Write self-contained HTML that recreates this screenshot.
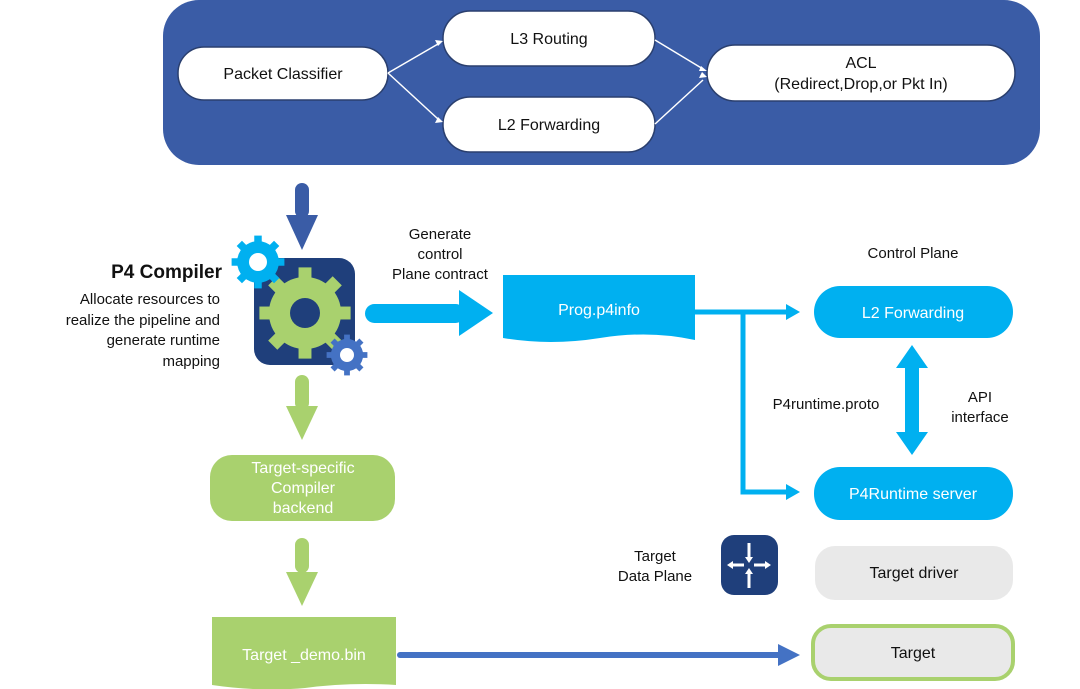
<!DOCTYPE html>
<html><head><style>body{margin:0;background:#fff}svg{display:block}text{font-family:"Liberation Sans",sans-serif}</style></head><body>
<svg width="1080" height="689" viewBox="0 0 1080 689" xmlns="http://www.w3.org/2000/svg">
<defs>
<g id="teeth"><rect x="-0.17" y="-1.2" width="0.34" height="2.4"/><rect x="-0.17" y="-1.2" width="0.34" height="2.4" transform="rotate(45)"/><rect x="-0.17" y="-1.2" width="0.34" height="2.4" transform="rotate(90)"/><rect x="-0.17" y="-1.2" width="0.34" height="2.4" transform="rotate(135)"/><circle r="0.95"/></g>
</defs>
<rect x="163" y="0" width="877" height="165" rx="36" fill="#3a5ca6"/>
<g fill="#fff" stroke="#2a3f6e" stroke-width="1.5">
<rect x="178" y="47" width="210" height="53" rx="26"/>
<rect x="443" y="11" width="212" height="55" rx="27"/>
<rect x="443" y="97" width="212" height="55" rx="27"/>
<rect x="707" y="45" width="308" height="56" rx="28"/>
</g>
<g stroke="#fff" stroke-width="1.5" fill="none"><path d="M388 73L438 44M388 73L438 119M655 40L703 69M655 124L703 80"/></g>
<g fill="#fff"><path d="M443 41l-8 -1l3 6z"/><path d="M443 122l-8 1l3 -6z"/><path d="M707 71l-6 -5l-2 5z"/><path d="M707 77l-8 1l3 -6z"/></g>
<g font-size="16" fill="#111" text-anchor="middle">
<text x="283" y="79">Packet Classifier</text>
<text x="549" y="44">L3 Routing</text>
<text x="549" y="130">L2 Forwarding</text>
<text x="861" y="68">ACL</text>
<text x="861" y="89">(Redirect,Drop,or Pkt In)</text>
</g>
<rect x="295" y="183" width="14" height="35" rx="7" fill="#3a5ca6"/><path d="M286 215h32l-16 35z" fill="#3a5ca6"/>
<rect x="254" y="258" width="101" height="107" rx="16" fill="#1f3f7b"/>
<g transform="translate(305,313) scale(38)" fill="#a9d16e"><use href="#teeth"/></g><circle cx="305" cy="313" r="15" fill="#1f3f7b"/>
<g transform="translate(258,262) scale(22)" fill="#00b0f0"><use href="#teeth"/></g><circle cx="258" cy="262" r="9" fill="#fff"/>
<g transform="translate(347,355) scale(17)" fill="#4472c4"><use href="#teeth"/></g><circle cx="347" cy="355" r="7" fill="#fff"/>
<text x="222" y="278" font-size="19" font-weight="bold" text-anchor="end" fill="#111">P4 Compiler</text>
<g font-size="15" fill="#111" text-anchor="end"><text x="220" y="304">Allocate resources to</text><text x="220" y="325">realize the pipeline and</text><text x="220" y="345">generate runtime</text><text x="220" y="366">mapping</text></g>
<g font-size="15" fill="#111" text-anchor="middle"><text x="440" y="239">Generate</text><text x="440" y="259">control</text><text x="440" y="279">Plane contract</text></g>
<rect x="365" y="304" width="100" height="19" rx="9.5" fill="#00b0f0"/><path d="M459 290L493 313L459 336z" fill="#00b0f0"/>
<path d="M503 275H695V340Q650 330 600 338Q550 346 503 338z" fill="#00b0f0"/>
<text x="599" y="315" font-size="16" fill="#fff" text-anchor="middle">Prog.p4info</text>
<g stroke="#00b0f0" stroke-width="5" fill="none"><path d="M695 312H790M743 312V492H790"/></g>
<path d="M800 312l-14 -8v16z M800 492l-14 -8v16z" fill="#00b0f0"/>
<text x="913" y="258" font-size="15" fill="#111" text-anchor="middle">Control Plane</text>
<rect x="814" y="286" width="199" height="52" rx="26" fill="#00b0f0"/>
<rect x="814" y="467" width="199" height="53" rx="26" fill="#00b0f0"/>
<g font-size="16" fill="#fff" text-anchor="middle"><text x="913" y="318">L2 Forwarding</text><text x="913" y="499">P4Runtime server</text></g>
<rect x="905" y="365" width="14" height="70" fill="#00b0f0"/><path d="M896 368L912 345L928 368zM896 432L912 455L928 432z" fill="#00b0f0"/>
<text x="826" y="409" font-size="15" fill="#111" text-anchor="middle">P4runtime.proto</text>
<g font-size="15" fill="#111" text-anchor="middle"><text x="980" y="402">API</text><text x="980" y="422">interface</text></g>
<rect x="295" y="375" width="14" height="35" rx="7" fill="#a9d16e"/><path d="M286 406h32l-16 34z" fill="#a9d16e"/>
<rect x="210" y="455" width="185" height="66" rx="22" fill="#a9d16e"/>
<g font-size="16" fill="#fff" text-anchor="middle"><text x="303" y="473">Target-specific</text><text x="303" y="493">Compiler</text><text x="303" y="513">backend</text></g>
<rect x="295" y="538" width="14" height="35" rx="7" fill="#a9d16e"/><path d="M286 572h32l-16 34z" fill="#a9d16e"/>
<path d="M212 617H396V685Q350 682 305 688Q260 692 212 685z" fill="#a9d16e"/>
<text x="304" y="660" font-size="16" fill="#fff" text-anchor="middle">Target _demo.bin</text>
<rect x="397" y="652" width="390" height="6" rx="3" fill="#4472c4"/><path d="M800 655l-22 -11v22z" fill="#4472c4"/>
<g font-size="15" fill="#111" text-anchor="middle"><text x="655" y="561">Target</text><text x="655" y="581">Data Plane</text></g>
<rect x="721" y="535" width="57" height="60" rx="13" fill="#1f3f7b"/>
<g stroke="#fff" stroke-width="3" fill="none"><path d="M749 543v16M749 588v-16M730 565h14M768 565h-14"/></g>
<g fill="#fff"><path d="M745 557h8l-4 6z M745 574h8l-4 -6z M733 561v8l-6 -4z M765 561v8l6 -4z"/></g>
<rect x="815" y="546" width="198" height="54" rx="20" fill="#e9e9e9"/>
<text x="914" y="578" font-size="16" fill="#111" text-anchor="middle">Target driver</text>
<rect x="813" y="626" width="200" height="53" rx="18" fill="#e9e9e9" stroke="#a9d16e" stroke-width="4"/>
<text x="913" y="658" font-size="16" fill="#111" text-anchor="middle">Target</text>
</svg>
</body></html>
